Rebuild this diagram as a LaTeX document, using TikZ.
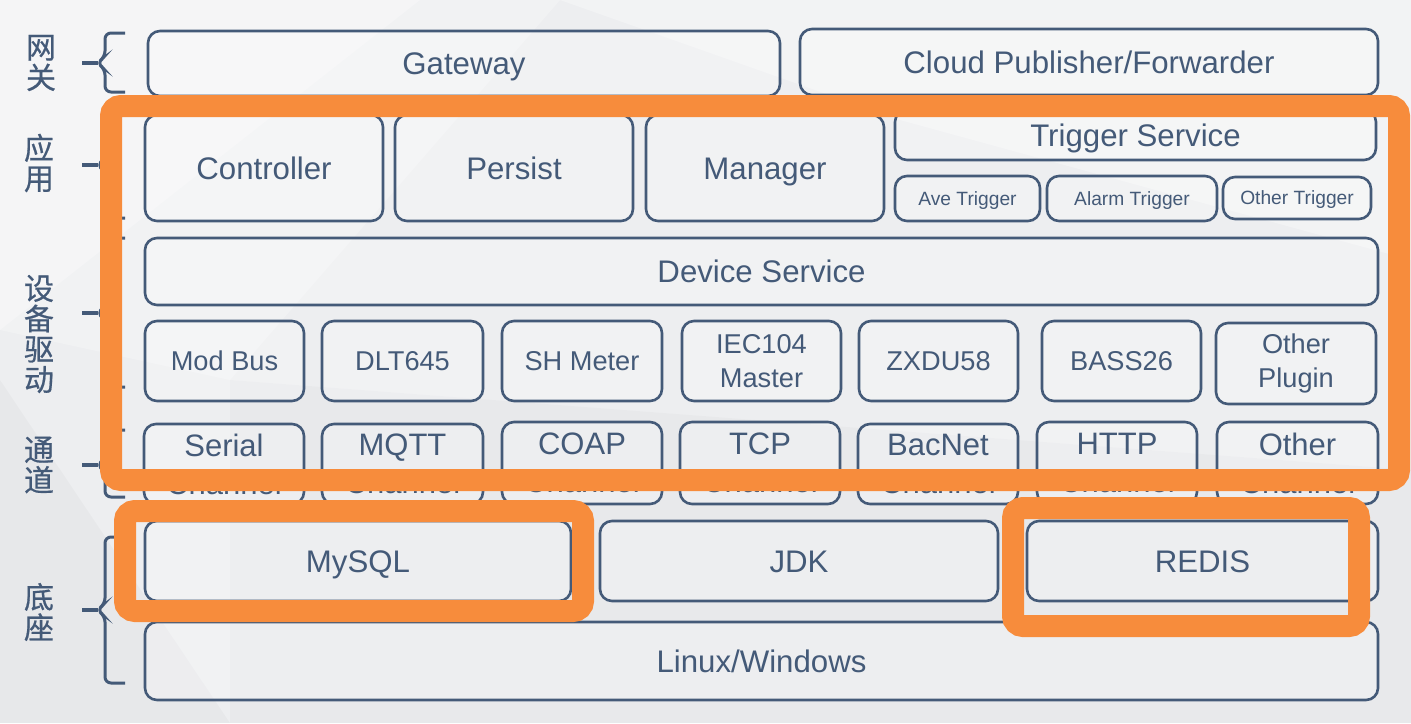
\documentclass[tikz,border=0pt]{standalone}
\usepackage{fontspec}
\setmainfont{Liberation Sans}
\newfontfamily\cjk[FakeBold=0.6]{Noto Sans CJK SC}
\definecolor{ink}{HTML}{445A78}
\definecolor{bg}{HTML}{EDEEF0}
\definecolor{org}{HTML}{F78C3C}
\tikzset{
  box/.style={draw=ink, line width=1.3pt, rounded corners=6pt, fill=white, fill opacity=0.25, text opacity=1, text=ink, align=center, inner sep=0pt},
  big/.style={font=\fontsize{15.6}{17}\selectfont, text height=11.2pt, text depth=0pt},
  mid/.style={font=\fontsize{13.6}{17}\selectfont},
  midone/.style={font=\fontsize{13.6}{17}\selectfont, text height=9.8pt, text depth=0pt},
  chan/.style={font=\fontsize{15.5}{19}\selectfont},
  small/.style={font=\fontsize{9.6}{11}\selectfont, text height=6.9pt, text depth=0pt},
  zh/.style={text=ink, align=center, font=\cjk\fontsize{15}{15.2}\selectfont, inner sep=0pt},
  brace/.style={draw=ink, line width=1.5pt, rounded corners=3pt},
  tick/.style={draw=ink, line width=2pt},
  hl/.style={draw=org, line width=11pt, rounded corners=5pt}
}
\newcommand\bx[7][]{\node[box,#1,minimum width={(#4-#2)*0.5pt}, minimum height={(#5-#3)*0.5pt}] (#6) at ({(#2+#4)/2},{(#3+#5)/2}) {#7};}
\newcommand\brc[4]{% x, top, bottom, tip y
  \draw[brace] (125,#2) -- (105,#2) -- (105,#4-6) -- (97,#4) -- (105,#4+6) -- (105,#3) -- (125,#3);
  \draw[tick] (82,#4) -- (98,#4);}
\begin{document}
\begin{tikzpicture}[x=0.5pt,y=-0.5pt]
\useasboundingbox (0,0) rectangle (1411,723);
\fill[bg] (0,0) rectangle (1411,723);
\fill[white,opacity=0.45] (0,0) -- (420,0) -- (0,330) -- cycle;
\fill[white,opacity=0.3] (560,0) -- (1411,0) -- (1411,260) -- (900,120) -- cycle;
\fill[black,opacity=0.025] (0,380) -- (230,723) -- (0,723) -- cycle;
\fill[black,opacity=0.02] (230,380) -- (1411,470) -- (1411,723) -- (230,723) -- cycle;
\fill[white,opacity=0.25] (0,330) -- (420,0) -- (560,0) -- (230,380) -- cycle;

% left labels
\node[zh] (l1) at (41,63) {网\\关};
\node[zh] (l2) at (39,163) {应\\用};
\node[zh] (l3) at (39,334) {设\\备\\驱\\动};
\node[zh] (l4) at (39,465) {通\\道};
\node[zh] (l5) at (39,612) {底\\座};
\brc{105}{33}{92}{63}
\brc{105}{113}{218}{165}
\brc{105}{238}{387}{313}
\brc{105}{430}{497}{465}
\brc{105}{537}{683}{610}

% gateway row
\bx[big]{148}{31}{780}{96}{gw}{Gateway}
\bx[big]{800}{29}{1378}{95}{cloud}{Cloud Publisher/Forwarder}

% application row
\bx[big]{145}{115}{383}{221}{ctrl}{Controller}
\bx[big]{395}{115}{633}{221}{pers}{Persist}
\bx[big]{646}{115}{884}{221}{mgr}{Manager}
\bx[big]{895}{110}{1376}{160}{trig}{Trigger Service}
\bx[small]{895}{176}{1040}{221}{ave}{Ave Trigger}
\bx[small]{1047}{176}{1217}{221}{alarm}{Alarm Trigger}
\bx[small]{1223}{177}{1371}{219}{otrig}{Other Trigger}

% device service
\bx[big]{145}{238}{1378}{305}{dev}{Device Service}

% plugins
\bx[midone]{145}{321}{304}{401}{p1}{Mod Bus}
\bx[midone]{322}{321}{483}{401}{p2}{DLT645}
\bx[midone]{502}{321}{662}{401}{p3}{SH Meter}
\bx[mid]{682}{321}{841}{401}{p4}{IEC104\\Master}
\bx[midone]{859}{321}{1018}{401}{p5}{ZXDU58}
\bx[midone]{1042}{321}{1201}{401}{p6}{BASS26}
\bx[mid]{1216}{323}{1376}{404}{p7}{Other\\Plugin}

% channels
\bx[chan]{144}{424}{304}{504}{c1}{Serial\\Channel}
\bx[chan]{322}{424}{483}{504}{c2}{MQTT\\Channel}
\bx[chan]{502}{422}{662}{504}{c3}{COAP\\Channel}
\bx[chan]{680}{422}{840}{504}{c4}{TCP\\Channel}
\bx[chan]{858}{424}{1018}{504}{c5}{BacNet\\Channel}
\bx[chan]{1037}{422}{1197}{504}{c6}{HTTP\\Channel}
\bx[chan]{1217}{422}{1378}{504}{c7}{Other\\Channel}

% base
\bx[big]{145}{521}{571}{601}{mysql}{MySQL}
\bx[big]{600}{521}{998}{601}{jdk}{JDK}
\bx[big]{1027}{521}{1378}{601}{redis}{REDIS}
\bx[big]{145}{622}{1378}{700}{os}{Linux/Windows}

% highlights
\draw[hl] (111,106) rectangle (1399,480);
\draw[hl] (125,511) rectangle (583,611);
\draw[hl] (1013,508) rectangle (1359,626);
\end{tikzpicture}
\end{document}
